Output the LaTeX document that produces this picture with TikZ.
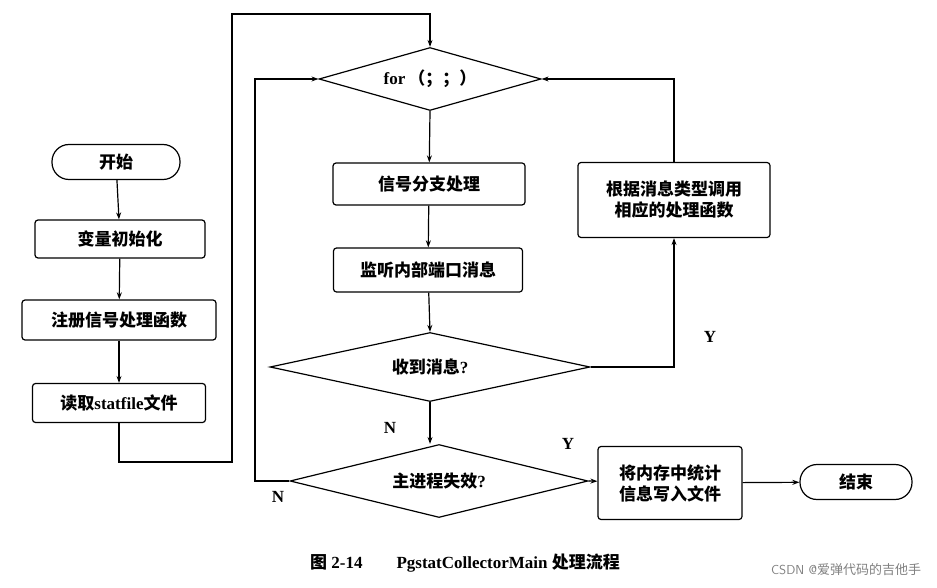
\documentclass[tikz,border=0pt]{standalone}
\usepackage{fontspec}
\setmainfont{Liberation Serif}
\newfontfamily\cjk{Noto Sans CJK SC}
\newcommand{\lat}{\rmfamily}
\usetikzlibrary{shapes.geometric,arrows.meta}
\begin{document}
\begin{tikzpicture}[x=1pt,y=-1pt,line width=1.2pt,
  box/.style={draw,rounded corners=3pt,minimum height=40pt,font=\fontsize{17}{21}\selectfont\bfseries},
  term/.style={draw,rounded corners=17pt,minimum height=35pt,font=\fontsize{17}{21}\selectfont\bfseries},
  dia/.style={draw,diamond,aspect=4.2,inner sep=0pt,font=\fontsize{17}{21}\selectfont\bfseries},
  lab/.style={font=\fontsize{17}{21}\selectfont\bfseries},
  arr/.style={-{Stealth[length=7pt,width=5pt]}}]
\useasboundingbox (0,0) rectangle (937,588);
\node[term,minimum width=128pt] (start) at (116,162) {\cjk 开始};
\node[box,minimum width=170pt,minimum height=38pt] (init) at (120,239) {\cjk 变量初始化};
\node[box,minimum width=194pt] (reg) at (119,320) {\cjk 注册信号处理函数};
\node[box,minimum width=173pt,minimum height=39pt] (read) at (119,403) {\cjk 读取\lat statfile\cjk 文件};
\node[dia,minimum width=222pt,minimum height=63pt] (for) at (430,79) {for\,\cjk（；；）};
\node[box,minimum width=192pt,minimum height=42pt] (sig) at (429,184) {\cjk 信号分支处理};
\node[box,minimum width=189pt,minimum height=44pt] (lis) at (428,270) {\cjk 监听内部端口消息};
\node[dia,minimum width=320pt,minimum height=69pt] (recv) at (430,367) {\cjk 收到消息\lat ?};
\node[box,minimum width=192pt,minimum height=75pt,align=center] (call) at (674,200) {\cjk 根据消息类型调用\\\cjk 相应的处理函数};
\node[dia,minimum width=298pt,minimum height=73pt] (main) at (439,481) {\cjk 主进程失效\lat ?};
\node[box,minimum width=144pt,minimum height=73pt,align=center] (save) at (670,483) {\cjk 将内存中统计\\\cjk 信息写入文件};
\node[term,minimum width=112pt] (end) at (856,482) {\cjk 结束};
\coordinate (c1) at (119,462);
\coordinate (c2) at (232,462);
\coordinate (c3) at (232,14);
\coordinate (c4) at (430,14);
\draw[arr] (start) -- (init);
\draw[arr] (init) -- (reg);
\draw[arr] (reg) -- (read);
\draw[arr] (read) -- (c1) -- (c2) -- (c3) -- (c4) -- (for.north);
\draw[arr] (for.south) -- (sig);
\draw[arr] (sig) -- (lis);
\draw[arr] (lis) -- (recv.north);
\draw[arr] (recv.east) -| (call.south);
\draw[arr] (call.north) |- (for.east);
\draw[arr] (recv.south) -- (recv.south|-main.north);
\draw[arr] (main.east) -- (save);
\draw[arr] (save) -- (end);
\draw[arr] (main.west) -- (255,481) -- (255,79) -- (for.west);
\node[lab] at (710,337) {Y};
\node[lab] at (390,428) {N};
\node[lab] at (568,444) {Y};
\node[lab] at (278,497) {N};
\node[font=\fontsize{17}{21}\selectfont\bfseries] (cap) at (465,563) {\cjk 图\lat\ 2-14\hspace{2em}PgstatCollectorMain \cjk 处理流程};
\node[font=\fontsize{13}{16}\selectfont,text=gray,anchor=east] (wm) at (925,570) {\sffamily CSDN @\cjk 爱弹代码的吉他手};
\end{tikzpicture}
\end{document}
